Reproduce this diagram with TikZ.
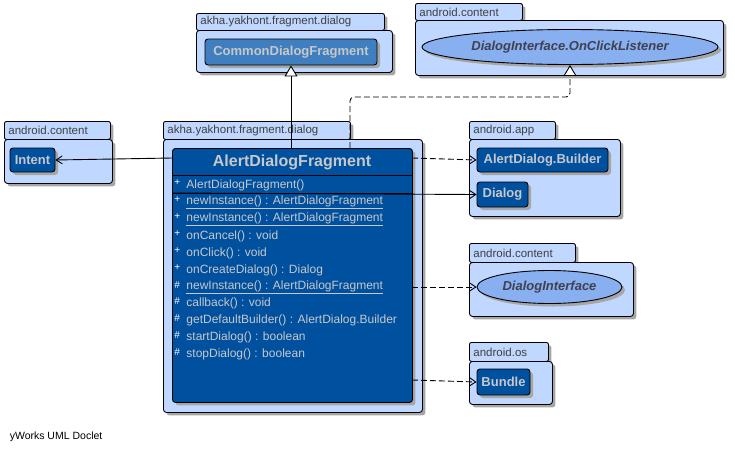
\documentclass[tikz,border=0pt]{standalone}
\usepackage{fontspec}
\setmainfont{Liberation Sans}
\usetikzlibrary{arrows.meta, shapes.geometric, shadows, positioning}

\definecolor{pkgfill}{HTML}{C0D8FF}
\definecolor{clsfill}{HTML}{0050A0}
\definecolor{clstext}{HTML}{C8C8C8}
\definecolor{basefill}{HTML}{3F7FBF}
\definecolor{ifcfill}{HTML}{88B0F0}
\definecolor{ifctext}{HTML}{404050}

\tikzset{
  shade/.style={drop shadow={shadow xshift=3pt, shadow yshift=-3pt, fill=gray!70, opacity=1}},
  pkgtab/.style={draw, fill=pkgfill, rounded corners=2pt, anchor=north west, inner xsep=4pt, inner ysep=0pt,
    text width=#1-8pt, align=left, font=\fontsize{11.5}{12}\selectfont, text=black!75, shade},
  pkgbody/.style={draw, fill=pkgfill, rounded corners=3pt, anchor=north west, inner sep=0pt, shade},
  cls/.style={draw, fill=clsfill, rounded corners=3pt, text=clstext, inner sep=2pt,
    font=\fontsize{13}{14}\bfseries\selectfont, shade},
  ifc/.style={draw, ellipse, fill=ifcfill, text=ifctext, inner sep=0pt,
    font=\fontsize{13}{14}\bfseries\itshape\selectfont, shade},
  mem/.style={anchor=west, text=clstext, inner sep=0pt, font=\fontsize{12}{12}\selectfont},
  dashes/.style={dash pattern=on 6pt off 3pt},
  dep/.style={dashes, -{Straight Barb[length=6pt, width=8pt]}},
  nav/.style={-{Straight Barb[length=6pt, width=8pt]}},
  gen/.style={-{Triangle[open, length=11pt, width=13pt, fill=white]}},
}

\begin{document}
\begin{tikzpicture}[x=1pt, y=-1pt, line width=0.9pt]
  \useasboundingbox (0,0) rectangle (735,453);

  % Packages
  \node[pkgtab=188pt, minimum height=17pt] (ptopA) at (196,13) {akha.yakhont.fragment.dialog};
  \node[pkgbody, minimum width=196pt, minimum height=42pt] (ptopB) at (196,30) {};
  \node[pkgtab=107pt, minimum height=17pt] (pifcA) at (415,3) {android.content};
  \node[pkgbody, minimum width=308pt, minimum height=55pt] (pifcB) at (415,20) {};
  \node[pkgtab=106pt, minimum height=18pt] (pintA) at (4,121) {android.content};
  \node[pkgbody, minimum width=108pt, minimum height=44pt] (pintB) at (4,139) {};
  \node[pkgtab=187pt, minimum height=18pt] (pmainA) at (163,121) {akha.yakhont.fragment.dialog};
  \node[pkgbody, minimum width=259pt, minimum height=273pt] (pmainB) at (163,139) {};
  \node[pkgtab=86pt, minimum height=18pt] (pappA) at (469,121) {android.app};
  \node[pkgbody, minimum width=151pt, minimum height=77pt] (pappB) at (469,139) {};
  \node[pkgtab=106pt, minimum height=19pt] (pdiA) at (469,243) {android.content};
  \node[pkgbody, minimum width=164pt, minimum height=54pt] (pdiB) at (469,262) {};
  \node[pkgtab=79pt, minimum height=19pt] (posA) at (469,342) {android.os};
  \node[pkgbody, minimum width=83pt, minimum height=43pt] (posB) at (469,361) {};

  % Classes
  \node[cls, fill=basefill, minimum width=172pt, minimum height=26pt] (common) at (291,52) {CommonDialogFragment};
  \node[ifc, minimum width=296pt, minimum height=35pt] (listener) at (570,47) {DialogInterface.OnClickListener};
  \node[cls, minimum width=45pt, minimum height=24pt] (intent) at (32.5,160) {Intent};
  \node[cls, minimum width=131pt, minimum height=24pt] (builder) at (542.5,160) {AlertDialog.Builder};
  \node[cls, minimum width=51pt, minimum height=25pt] (dialog) at (502.5,194.5) {Dialog};
  \node[ifc, minimum width=145pt, minimum height=33pt] (dlgifc) at (549.5,287) {DialogInterface};
  \node[cls, minimum width=53pt, minimum height=26pt] (bundle) at (503.5,382) {Bundle};

  % Main class
  \node[draw, fill=clsfill, rounded corners=3pt, anchor=north west, minimum width=240pt,
    minimum height=254pt, shade] (main) at (172,148) {};
  \node[text=clstext, font=\fontsize{16}{18}\bfseries\selectfont] (title) at (292,162) {AlertDialogFragment};
  \draw (172,175) -- (412,175);
  \draw (172,193.5) -- (412,193.5);
  \foreach \y/\v/\t in {185/+/AlertDialogFragment(),
      202/+/\underline{newInstance() : AlertDialogFragment},
      219/+/\underline{newInstance() : AlertDialogFragment},
      236/+/onCancel() : void,
      253/+/onClick() : void,
      270/+/onCreateDialog() : Dialog,
      287/\#/\underline{newInstance() : AlertDialogFragment},
      303/\#/callback() : void,
      320/\#/getDefaultBuilder() : AlertDialog.Builder,
      337/\#/startDialog() : boolean,
      354/\#/stopDialog() : boolean} {
    \node[mem, text=white, font=\fontsize{10}{10}\selectfont] at (174,\y-2) {\v};
    \node[mem] at (186,\y) {\t};
  }

  % Connectors
  \coordinate (mIntent) at (172,158);
  \coordinate (mDialog) at (172,193);
  \draw[nav] (mIntent) -- (intent.east);
  \draw[nav] (mDialog) -- (dialog.west);
  \draw[dep] (412,158) -- (builder.west);
  \draw[dep] (412,287) -- (dlgifc.west);
  \draw[dep] (412,380) -- (bundle.west);
  \draw[gen] (main.north -| common.south) -- (common.south);
  \coordinate (mReal) at (350,148);
  \draw[gen, dashes, rounded corners=4pt] (mReal) -- (350,97) -- (570,97) -- (listener.south);

  \node[anchor=west, font=\fontsize{10.5}{11}\selectfont] (footer) at (6,437) {yWorks UML Doclet};
\end{tikzpicture}
\end{document}
